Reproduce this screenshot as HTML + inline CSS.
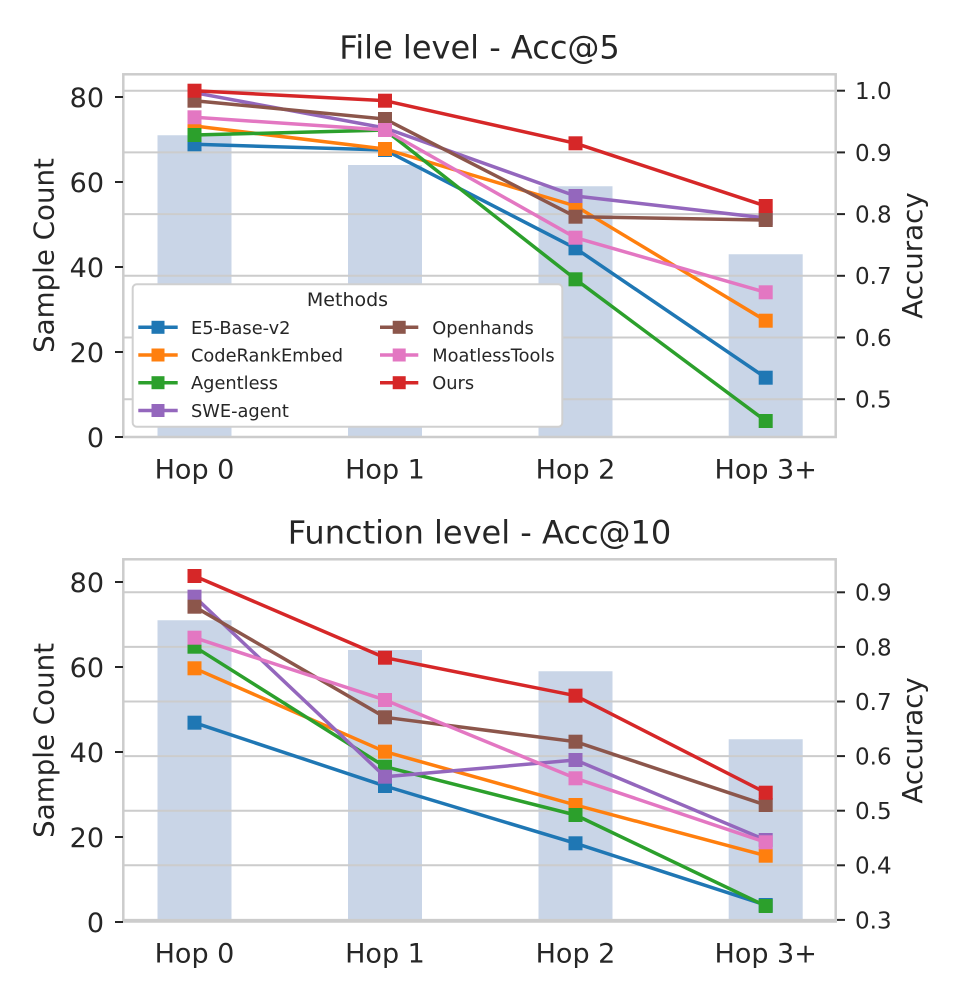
<!DOCTYPE html>
<html>
<head>
<meta charset="utf-8">
<style>
  html, body { margin: 0; padding: 0; background: #ffffff; }
  svg { display: block; }
  text { font-family: "DejaVu Sans", "Liberation Sans", sans-serif; fill: #262626; }
</style>
</head>
<body>
<svg width="960" height="1000" viewBox="0 0 960 1000" xmlns="http://www.w3.org/2000/svg">
  <defs>
    <rect id="m" x="-7" y="-7" width="14" height="14"/>
    <rect id="lm" x="-6.5" y="-6.5" width="13" height="13"/>
  </defs>
  <rect x="0" y="0" width="960" height="1000" fill="#ffffff"/>

  <!-- ================= TOP CHART ================= -->
  <text x="479.5" y="58.3" font-size="32" text-anchor="middle">File level - Acc@5</text>

  <g fill="rgb(201,213,231)">
    <rect x="157.5" y="135.25" width="74" height="301.75"/>
    <rect x="348" y="165" width="74" height="272"/>
    <rect x="538.5" y="186.25" width="74" height="250.75"/>
    <rect x="728.7" y="254.25" width="74" height="182.75"/>
  </g>

  <g stroke="#cccccc" stroke-width="2">
    <line x1="123" y1="90.7" x2="836" y2="90.7"/>
    <line x1="123" y1="152.4" x2="836" y2="152.4"/>
    <line x1="123" y1="214.1" x2="836" y2="214.1"/>
    <line x1="123" y1="275.8" x2="836" y2="275.8"/>
    <line x1="123" y1="337.5" x2="836" y2="337.5"/>
    <line x1="123" y1="399.2" x2="836" y2="399.2"/>
  </g>

  <g fill="none" stroke-width="3.5" stroke-linejoin="round">
    <polyline stroke="#1f77b4" points="194.5,144.3 385,150 575.5,248.3 765.7,377.7"/>
    <g fill="#1f77b4"><use href="#m" x="194.5" y="144.3"/><use href="#m" x="385" y="150"/><use href="#m" x="575.5" y="248.3"/><use href="#m" x="765.7" y="377.7"/></g>
    <polyline stroke="#ff7f0e" points="194.5,126 385,149 575.5,206 765.7,320.7"/>
    <g fill="#ff7f0e"><use href="#m" x="194.5" y="126"/><use href="#m" x="385" y="149"/><use href="#m" x="575.5" y="206"/><use href="#m" x="765.7" y="320.7"/></g>
    <polyline stroke="#2ca02c" points="194.5,135 385,130 575.5,279.3 765.7,421"/>
    <g fill="#2ca02c"><use href="#m" x="194.5" y="135"/><use href="#m" x="385" y="130"/><use href="#m" x="575.5" y="279.3"/><use href="#m" x="765.7" y="421"/></g>
    <polyline stroke="#9467bd" points="194.5,92.7 385,128 575.5,196 765.7,218"/>
    <g fill="#9467bd"><use href="#m" x="194.5" y="92.7"/><use href="#m" x="385" y="128"/><use href="#m" x="575.5" y="196"/><use href="#m" x="765.7" y="218"/></g>
    <polyline stroke="#8c564b" points="194.5,100.7 385,119 575.5,216.7 765.7,220"/>
    <g fill="#8c564b"><use href="#m" x="194.5" y="100.7"/><use href="#m" x="385" y="119"/><use href="#m" x="575.5" y="216.7"/><use href="#m" x="765.7" y="220"/></g>
    <polyline stroke="#e377c2" points="194.5,117.3 385,130 575.5,237.7 765.7,292.3"/>
    <g fill="#e377c2"><use href="#m" x="194.5" y="117.3"/><use href="#m" x="385" y="130"/><use href="#m" x="575.5" y="237.7"/><use href="#m" x="765.7" y="292.3"/></g>
    <polyline stroke="#d62728" points="194.5,90.7 385,100.7 575.5,143.3 765.7,206"/>
    <g fill="#d62728"><use href="#m" x="194.5" y="90.7"/><use href="#m" x="385" y="100.7"/><use href="#m" x="575.5" y="143.3"/><use href="#m" x="765.7" y="206"/></g>
  </g>

  <rect x="123.3" y="74.3" width="712.4" height="362.7" fill="none" stroke="#cccccc" stroke-width="2.5"/>

  <g stroke="#262626" stroke-width="2">
    <line x1="115" y1="97" x2="123" y2="97"/>
    <line x1="115" y1="182" x2="123" y2="182"/>
    <line x1="115" y1="267" x2="123" y2="267"/>
    <line x1="115" y1="352" x2="123" y2="352"/>
    <line x1="115" y1="437" x2="123" y2="437"/>
    <line x1="837" y1="90.7" x2="845" y2="90.7"/>
    <line x1="837" y1="152.4" x2="845" y2="152.4"/>
    <line x1="837" y1="214.1" x2="845" y2="214.1"/>
    <line x1="837" y1="275.8" x2="845" y2="275.8"/>
    <line x1="837" y1="337.5" x2="845" y2="337.5"/>
    <line x1="837" y1="399.2" x2="845" y2="399.2"/>
  </g>

  <g font-size="27" text-anchor="end">
    <text x="104" y="106.8">80</text>
    <text x="104" y="191.8">60</text>
    <text x="104" y="276.8">40</text>
    <text x="104" y="361.8">20</text>
    <text x="104" y="446.8">0</text>
  </g>
  <g font-size="23">
    <text x="855" y="99.1">1.0</text>
    <text x="855" y="160.8">0.9</text>
    <text x="855" y="222.5">0.8</text>
    <text x="855" y="284.2">0.7</text>
    <text x="855" y="345.9">0.6</text>
    <text x="855" y="407.6">0.5</text>
  </g>
  <g font-size="27" text-anchor="middle">
    <text x="194.5" y="478.3">Hop 0</text>
    <text x="385" y="478.3">Hop 1</text>
    <text x="575.5" y="478.3">Hop 2</text>
    <text x="765.7" y="478.3">Hop 3+</text>
  </g>
  <text transform="translate(53.5,255.5) rotate(-90)" font-size="27.7" text-anchor="middle">Sample Count</text>
  <text transform="translate(922,255.5) rotate(-90)" font-size="27.7" text-anchor="middle">Accuracy</text>

  <!-- legend -->
  <rect x="132.7" y="284.3" width="429.6" height="142.4" rx="4" ry="4" fill="#ffffff" stroke="#d0d0d0" stroke-width="2"/>
  <text x="347.5" y="306" font-size="19" text-anchor="middle">Methods</text>
  <g stroke-width="3.5">
    <line x1="138.3" y1="327.3" x2="177.7" y2="327.3" stroke="#1f77b4"/>
    <line x1="138.3" y1="355" x2="177.7" y2="355" stroke="#ff7f0e"/>
    <line x1="138.3" y1="382.7" x2="177.7" y2="382.7" stroke="#2ca02c"/>
    <line x1="138.3" y1="410.5" x2="177.7" y2="410.5" stroke="#9467bd"/>
    <line x1="380" y1="327.3" x2="418.3" y2="327.3" stroke="#8c564b"/>
    <line x1="380" y1="355" x2="418.3" y2="355" stroke="#e377c2"/>
    <line x1="380" y1="382.7" x2="418.3" y2="382.7" stroke="#d62728"/>
  </g>
  <use href="#lm" x="158" y="327.3" fill="#1f77b4"/>
  <use href="#lm" x="158" y="355" fill="#ff7f0e"/>
  <use href="#lm" x="158" y="382.7" fill="#2ca02c"/>
  <use href="#lm" x="158" y="410.5" fill="#9467bd"/>
  <use href="#lm" x="399.2" y="327.3" fill="#8c564b"/>
  <use href="#lm" x="399.2" y="355" fill="#e377c2"/>
  <use href="#lm" x="399.2" y="382.7" fill="#d62728"/>
  <g font-size="17.8">
    <text x="191" y="333.8">E5-Base-v2</text>
    <text x="191" y="361.5">CodeRankEmbed</text>
    <text x="191" y="389.2">Agentless</text>
    <text x="191" y="417">SWE-agent</text>
    <text x="432.3" y="333.8">Openhands</text>
    <text x="432.3" y="361.5">MoatlessTools</text>
    <text x="432.3" y="389.2">Ours</text>
  </g>

  <!-- ================= BOTTOM CHART ================= -->
  <text x="479.5" y="543.3" font-size="32" text-anchor="middle">Function level - Acc@10</text>

  <g fill="rgb(201,213,231)">
    <rect x="157.5" y="620.25" width="74" height="301.75"/>
    <rect x="348" y="650" width="74" height="272"/>
    <rect x="538.5" y="671.25" width="74" height="250.75"/>
    <rect x="728.7" y="739.25" width="74" height="182.75"/>
  </g>

  <g stroke="#cccccc" stroke-width="2">
    <line x1="123" y1="592.3" x2="836" y2="592.3"/>
    <line x1="123" y1="646.9" x2="836" y2="646.9"/>
    <line x1="123" y1="701.5" x2="836" y2="701.5"/>
    <line x1="123" y1="756.1" x2="836" y2="756.1"/>
    <line x1="123" y1="810.7" x2="836" y2="810.7"/>
    <line x1="123" y1="865.3" x2="836" y2="865.3"/>
    <line x1="123" y1="919.9" x2="836" y2="919.9"/>
  </g>

  <g fill="none" stroke-width="3.5" stroke-linejoin="round">
    <polyline stroke="#1f77b4" points="194.5,722.7 385,786 575.5,843.3 765.7,905"/>
    <g fill="#1f77b4"><use href="#m" x="194.5" y="722.7"/><use href="#m" x="385" y="786"/><use href="#m" x="575.5" y="843.3"/><use href="#m" x="765.7" y="905"/></g>
    <polyline stroke="#ff7f0e" points="194.5,668.3 385,751.7 575.5,805 765.7,855.7"/>
    <g fill="#ff7f0e"><use href="#m" x="194.5" y="668.3"/><use href="#m" x="385" y="751.7"/><use href="#m" x="575.5" y="805"/><use href="#m" x="765.7" y="855.7"/></g>
    <polyline stroke="#2ca02c" points="194.5,646.7 385,766.7 575.5,815 765.7,906"/>
    <g fill="#2ca02c"><use href="#m" x="194.5" y="646.7"/><use href="#m" x="385" y="766.7"/><use href="#m" x="575.5" y="815"/><use href="#m" x="765.7" y="906"/></g>
    <polyline stroke="#9467bd" points="194.5,596.7 385,776.7 575.5,760 765.7,840"/>
    <g fill="#9467bd"><use href="#m" x="194.5" y="596.7"/><use href="#m" x="385" y="776.7"/><use href="#m" x="575.5" y="760"/><use href="#m" x="765.7" y="840"/></g>
    <polyline stroke="#8c564b" points="194.5,606.7 385,717.3 575.5,741.7 765.7,805"/>
    <g fill="#8c564b"><use href="#m" x="194.5" y="606.7"/><use href="#m" x="385" y="717.3"/><use href="#m" x="575.5" y="741.7"/><use href="#m" x="765.7" y="805"/></g>
    <polyline stroke="#e377c2" points="194.5,637.7 385,700 575.5,778.3 765.7,842.3"/>
    <g fill="#e377c2"><use href="#m" x="194.5" y="637.7"/><use href="#m" x="385" y="700"/><use href="#m" x="575.5" y="778.3"/><use href="#m" x="765.7" y="842.3"/></g>
    <polyline stroke="#d62728" points="194.5,576 385,657.7 575.5,695.7 765.7,792.7"/>
    <g fill="#d62728"><use href="#m" x="194.5" y="576"/><use href="#m" x="385" y="657.7"/><use href="#m" x="575.5" y="695.7"/><use href="#m" x="765.7" y="792.7"/></g>
  </g>

  <rect x="123.3" y="559.3" width="712.4" height="362.2" fill="none" stroke="#cccccc" stroke-width="2.5"/>

  <g stroke="#262626" stroke-width="2">
    <line x1="115" y1="582" x2="123" y2="582"/>
    <line x1="115" y1="667" x2="123" y2="667"/>
    <line x1="115" y1="752" x2="123" y2="752"/>
    <line x1="115" y1="837" x2="123" y2="837"/>
    <line x1="115" y1="922" x2="123" y2="922"/>
    <line x1="837" y1="592.3" x2="845" y2="592.3"/>
    <line x1="837" y1="646.9" x2="845" y2="646.9"/>
    <line x1="837" y1="701.5" x2="845" y2="701.5"/>
    <line x1="837" y1="756.1" x2="845" y2="756.1"/>
    <line x1="837" y1="810.7" x2="845" y2="810.7"/>
    <line x1="837" y1="865.3" x2="845" y2="865.3"/>
    <line x1="837" y1="919.9" x2="845" y2="919.9"/>
  </g>

  <g font-size="27" text-anchor="end">
    <text x="104" y="591.8">80</text>
    <text x="104" y="676.8">60</text>
    <text x="104" y="761.8">40</text>
    <text x="104" y="846.8">20</text>
    <text x="104" y="931.8">0</text>
  </g>
  <g font-size="23">
    <text x="855" y="600.7">0.9</text>
    <text x="855" y="655.3">0.8</text>
    <text x="855" y="709.9">0.7</text>
    <text x="855" y="764.5">0.6</text>
    <text x="855" y="819.1">0.5</text>
    <text x="855" y="873.7">0.4</text>
    <text x="855" y="928.3">0.3</text>
  </g>
  <g font-size="27" text-anchor="middle">
    <text x="194.5" y="962.3">Hop 0</text>
    <text x="385" y="962.3">Hop 1</text>
    <text x="575.5" y="962.3">Hop 2</text>
    <text x="765.7" y="962.3">Hop 3+</text>
  </g>
  <text transform="translate(53.5,740.4) rotate(-90)" font-size="27.7" text-anchor="middle">Sample Count</text>
  <text transform="translate(922,740.4) rotate(-90)" font-size="27.7" text-anchor="middle">Accuracy</text>
</svg>
</body>
</html>
